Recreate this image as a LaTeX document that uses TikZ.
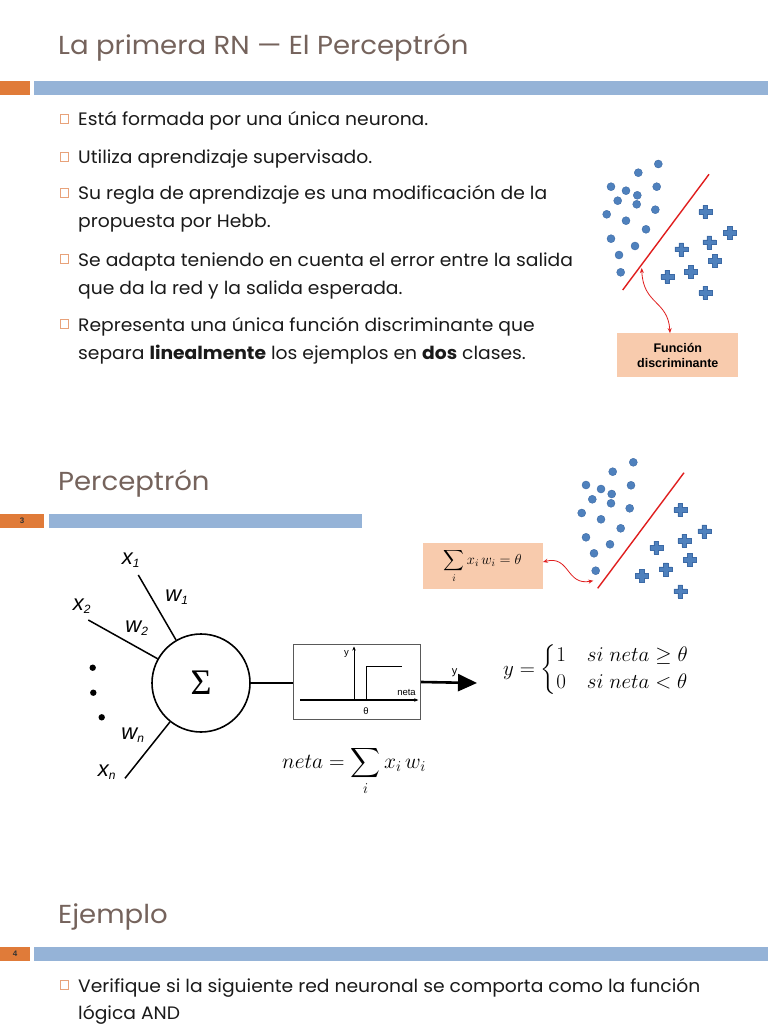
\RequirePackage{fix-cm}
\documentclass[tikz,border=0pt]{standalone}
\usepackage{amsmath}
\usepackage{fontspec}
\setmainfont{Poppins}[FakeStretch=1.04]
\newfontfamily\titlefont{Poppins}[FakeStretch=1.06]
\newfontfamily\arial{Liberation Sans}
\newfontfamily\timesf{Liberation Serif}
\usetikzlibrary{arrows.meta}
\definecolor{titlec}{HTML}{75635C}
\definecolor{barblue}{HTML}{95B3D7}
\definecolor{barorange}{HTML}{E07B39}
\definecolor{bulletc}{HTML}{E8A27A}
\definecolor{dotblue}{HTML}{4F81BD}
\definecolor{dotedge}{HTML}{3C6AA6}
\definecolor{peach}{HTML}{F8CBAD}
\definecolor{redl}{HTML}{E01E1E}
\definecolor{bodyc}{HTML}{1A1A1A}
\tikzset{
  slidetitle/.style={anchor=base west, inner sep=0, text=titlec, font=\titlefont\fontsize{26}{26}\selectfont},
  bodytext/.style={anchor=base west, inner sep=0, text=bodyc, font=\fontsize{18}{20}\selectfont},
  bsq/.style={draw=bulletc, line width=0.9pt, minimum size=8.5pt, inner sep=0, fill=white},
  dotc/.style={circle, fill=dotblue, draw=dotedge, line width=0.4pt, inner sep=0, minimum size=8pt},
  plusmark/.pic={\filldraw[fill=dotblue, draw=dotedge, line width=0.5pt]
     (-6.5,-2.4) -- (-2.4,-2.4) -- (-2.4,-6.5) -- (2.4,-6.5) -- (2.4,-2.4) -- (6.5,-2.4)
     -- (6.5,2.4) -- (2.4,2.4) -- (2.4,6.5) -- (-2.4,6.5) -- (-2.4,2.4) -- (-6.5,2.4) -- cycle;},
  pagenum/.style={inner sep=0, font=\arial\bfseries\fontsize{8}{8}\selectfont, text=black!80},
  nlabel/.style={inner sep=0, font=\arial\itshape\fontsize{22}{22}\selectfont},
  redarrow/.style={draw=redl, line width=0.8pt, {Stealth[length=5pt,width=4pt]}-{Stealth[length=5pt,width=4pt]}},
  peachbox/.style={fill=peach, inner sep=0},
  small/.style={inner sep=0, font=\arial\fontsize{9.5}{9.5}\selectfont}
}
\begin{document}
\begin{tikzpicture}[x=1pt,y=-1pt]
\useasboundingbox[fill=white] (0,0) rectangle (768,1024);

% ---------------- Slide 1 ----------------
\node[slidetitle] (t1) at (58,55) {La primera RN — El Perceptrón};
\fill[barorange] (0,81) rectangle (30,95);
\fill[barblue] (34,81) rectangle (768,95);

\node[bsq] (b1) at (64.5,119) {};
\node[bodytext] (l1) at (78,126) {Está formada por una única neurona.};
\node[bsq] (b2) at (64.5,157) {};
\node[bodytext] (l2) at (78,164) {Utiliza aprendizaje supervisado.};
\node[bsq] (b3) at (64.5,193) {};
\node[bodytext] (l3) at (78,200) {Su regla de aprendizaje es una modificación de la};
\node[bodytext] (l3b) at (78,227) {propuesta por Hebb.};
\node[bsq] (b4) at (64.5,259) {};
\node[bodytext] (l4) at (78,266) {Se adapta teniendo en cuenta el error entre la salida};
\node[bodytext] (l4b) at (78,294) {que da la red y la salida esperada.};
\node[bsq] (b5) at (64.5,324) {};
\node[bodytext] (l5) at (78,331) {Representa una única función discriminante que};
\node[bodytext] (l5b) at (78,359) {separa \textbf{linealmente} los ejemplos en \textbf{dos} clases.};

% scatter 1
\foreach \p [count=\k] in {(658.3,164),(638.3,172.7),(611,186.7),(626,190.7),(656.7,186.7),(637.3,195.3),(617.7,200.7),(636.7,204.3),(655.3,209.7),(606.7,214.3),(626,220.7),(646,229.3),(611,238.7),(635,246),(619,255),(620.7,272.3)}
  \node[dotc] (da\k) at \p {};
\foreach \p in {(705.3,212),(730,232.7),(709.3,242.3),(681.3,249.3),(715,261),(691,271.7),(667.3,276.7),(705.3,292.7)}
  \pic at \p {plusmark};
\coordinate (ra1) at (622.7,290);
\coordinate (ra2) at (709,174.3);
\draw[redl, line width=1.4pt] (ra1) -- (ra2);
\node[peachbox, minimum width=121pt, minimum height=43.4pt, align=center,
      font=\arial\bfseries\fontsize{12.5}{15}\selectfont] (fd) at (677.8,355) {Función\\discriminante};
\coordinate (ca) at (641.7,268);
\draw[redarrow] (fd.north -| 670,0) .. controls (668,300) and (643,305) .. (ca);

% ---------------- Slide 2 ----------------
\node[slidetitle] (t2) at (58,490) {Perceptrón};
\fill[barorange] (0,514) rectangle (44,528);
\fill[barblue] (49,514) rectangle (362,528);
\node[pagenum] (p3) at (22,521) {3};

% scatter 2
\foreach \p [count=\k] in {(633.3,462.3),(612.7,471.7),(586,485),(601,489),(631,485.3),(611.7,494),(592.3,499.3),(611,503.3),(629.7,508.3),(581.7,513),(601,519.3),(620.7,528.3),(586,537.3),(610,544.3),(594,553.3),(595.7,570.7)}
  \node[dotc] (db\k) at \p {};
\foreach \p in {(680.3,510),(704.3,531.3),(684.3,540.7),(656.3,547.7),(690,559.7),(665.7,569.3),(641.7,575.7),(680.3,591.3)}
  \pic at \p {plusmark};
\coordinate (rb1) at (597.7,588.3);
\coordinate (rb2) at (684,472.7);
\draw[redl, line width=1.4pt] (rb1) -- (rb2);
\node[peachbox, minimum width=120pt, minimum height=46.6pt,
      font=\fontsize{14.5}{14.5}\selectfont] (fs) at (482.7,566) {$\displaystyle\sum_i x_i\, w_i = \theta$};
\coordinate (cb) at (593.3,580.7);
\draw[redarrow] (fs.east |- 0,562) .. controls (570,555) and (566,586) .. (cb);

% neuron
\node[circle, draw, line width=1.6pt, minimum size=98pt, inner sep=0,
      font=\timesf\fontsize{36}{36}\selectfont] (N) at (201,683) {Σ};
\coordinate (x1s) at (138.3,575);
\coordinate (x2s) at (88.3,620);
\coordinate (xns) at (125,778.3);
\draw[line width=1.5pt] (x1s) -- (N);
\draw[line width=1.5pt] (x2s) -- (N);
\draw[line width=1.5pt] (xns) -- (N);
\node[nlabel] (lx1) at (131,560) {x\textsubscript{\fontsize{12}{12}\selectfont 1}};
\node[nlabel] (lw1) at (177,597) {w\textsubscript{\fontsize{12}{12}\selectfont 1}};
\node[nlabel] (lx2) at (82,606) {x\textsubscript{\fontsize{12}{12}\selectfont 2}};
\node[nlabel] (lw2) at (137,628) {w\textsubscript{\fontsize{12}{12}\selectfont 2}};
\node[nlabel] (lwn) at (133,735) {w\textsubscript{\fontsize{12}{12}\selectfont n}};
\node[nlabel] (lxn) at (107,772) {x\textsubscript{\fontsize{12}{12}\selectfont n}};
\fill (92.7,667.7) circle (3.2);
\fill (93.3,692.7) circle (3.2);
\fill (101.7,717.3) circle (3.2);

% activation box
\node[draw=black!65, line width=0.9pt, minimum width=127.4pt, minimum height=75pt, inner sep=0] (F) at (357,682) {};
\draw[line width=1.5pt] (N.east) -- (N.east -| F.west);
\coordinate (hx0) at (300,700);
\coordinate (hx1) at (418.3,700);
\coordinate (vy0) at (354,700);
\coordinate (vy1) at (354,646.5);
\draw[line width=1.4pt, -{Stealth[length=4pt,width=3.5pt]}] (hx0) -- (hx1);
\draw[line width=0.7pt, -{Stealth[length=4pt,width=3.5pt]}] (vy0) -- (vy1);
\draw[line width=0.6pt] (366,700) -- (366,666) -- (401.7,666);
\node[small] (ly) at (346.5,654) {y};
\node[small] (lneta) at (406.5,692.5) {neta};
\node[small] (lth) at (366,711) {θ};
\coordinate (yout) at (477,683);
\draw[line width=2.6pt, -{Triangle[length=19pt,width=17pt]}] (F.east) -- (yout);
\node[inner sep=0, font=\arial\fontsize{11}{11}\selectfont] (lyo) at (454.5,673) {y};

% formulas
\node[inner sep=0, anchor=west, font=\fontsize{21}{21}\selectfont] (fy) at (503,670)
  {$y=\begin{cases}1 & si\; neta\geq\theta\\[2pt] 0 & si\; neta<\theta\end{cases}$};
\node[inner sep=0, anchor=west, font=\fontsize{21.5}{21.5}\selectfont] (fn) at (282,771)
  {$neta=\displaystyle\sum_i x_i\, w_i$};

% ---------------- Slide 3 ----------------
\node[slidetitle] (t3) at (58,923) {Ejemplo};
\fill[barorange] (0,947) rectangle (30,961);
\fill[barblue] (34,947) rectangle (768,961);
\node[pagenum] (p4) at (15,954) {4};
\node[bsq] (b6) at (64.5,985) {};
\node[bodytext] (l6) at (78,992) {Verifique si la siguiente red neuronal se comporta como la función};
\node[bodytext] (l6b) at (78,1019) {lógica AND};
\end{tikzpicture}
\end{document}
